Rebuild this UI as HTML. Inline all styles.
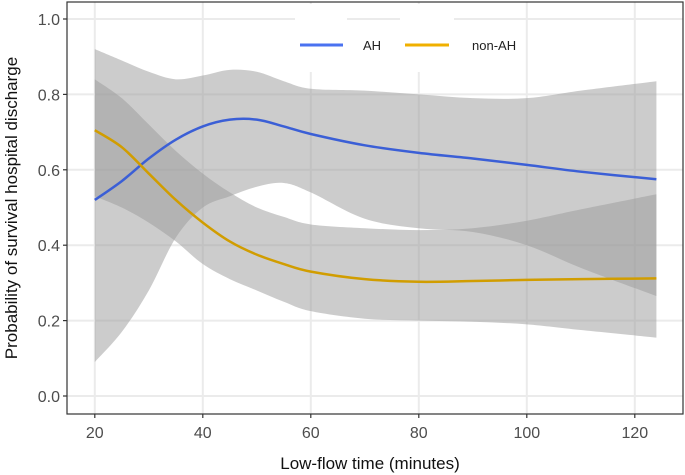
<!DOCTYPE html>
<html><head><meta charset="utf-8"><style>
body{margin:0;background:#fff;}
svg{display:block;font-family:"Liberation Sans",Arial,sans-serif;}
</style></head><body>
<svg id="chart" width="685" height="475"></svg>
<script>
const xs=[20,25,30,35,40,45,50,55,60,70,80,90,100,110,124];
const ahMean=[0.52,0.57,0.63,0.68,0.715,0.733,0.733,0.715,0.695,0.665,0.645,0.63,0.613,0.595,0.575];
const ahUpper=[0.92,0.89,0.86,0.84,0.85,0.865,0.86,0.835,0.815,0.81,0.80,0.79,0.79,0.81,0.835];
const ahLower=[0.09,0.17,0.28,0.42,0.50,0.53,0.555,0.565,0.54,0.47,0.445,0.435,0.40,0.34,0.265];
const nonMean=[0.705,0.66,0.59,0.52,0.46,0.41,0.375,0.35,0.33,0.31,0.303,0.305,0.308,0.31,0.312];
const nonUpper=[0.84,0.79,0.72,0.65,0.59,0.54,0.50,0.475,0.455,0.445,0.44,0.445,0.465,0.495,0.535];
const nonLower=[0.53,0.50,0.46,0.41,0.35,0.31,0.28,0.25,0.225,0.205,0.20,0.197,0.19,0.175,0.155];
const xTicks=[20,40,60,80,100,120];
const yTicks=[0,0.2,0.4,0.6,0.8,1.0];
const yTickLabels=["0.0","0.2","0.4","0.6","0.8","1.0"];

const L=67,R=683,T=2,B=414;
const X=v=>94.8+(v-20)*5.4;
const Y=v=>396-v*377;
const NS="http://www.w3.org/2000/svg";
const svg=document.getElementById('chart');
function mk(tag,attrs,parent){const e=document.createElementNS(NS,tag);for(const k in attrs)e.setAttribute(k,attrs[k]);(parent||svg).appendChild(e);return e;}
function smooth(pts){let d=`M${pts[0][0]},${pts[0][1]}`;for(let i=0;i<pts.length-1;i++){const p0=pts[i-1]||pts[i],p1=pts[i],p2=pts[i+1],p3=pts[i+2]||p2;
const c1=[p1[0]+(p2[0]-p0[0])/6,p1[1]+(p2[1]-p0[1])/6],c2=[p2[0]-(p3[0]-p1[0])/6,p2[1]-(p3[1]-p1[1])/6];
d+=` C${c1[0]},${c1[1]} ${c2[0]},${c2[1]} ${p2[0]},${p2[1]}`;}return d;}
function pts(arr){return xs.map((x,i)=>[X(x),Y(arr[i])]);}
function ribbon(up,lo){const u=pts(up),l=pts(lo).reverse();return smooth(u)+' L'+smooth(l).slice(1)+' Z';}

const grid=mk('g',{});
yTicks.forEach(v=>{const g=mk('line',{x1:L,x2:R,y1:Y(v),y2:Y(v),stroke:'#ebebeb','stroke-width':2},grid);});
xTicks.forEach(v=>{const g=mk('line',{x1:X(v),x2:X(v),y1:T,y2:B,stroke:'#ebebeb','stroke-width':2},grid);});

const lg=mk('g',{});
mk('rect',{x:295,y:4,width:52,height:68,fill:'#fff'},lg);
mk('rect',{x:400,y:4,width:54,height:68,fill:'#fff'},lg);

const r1=mk('path',{d:ribbon(ahUpper,ahLower),fill:'#999','fill-opacity':0.5});

const r2=mk('path',{d:ribbon(nonUpper,nonLower),fill:'#999','fill-opacity':0.5});


const l1=mk('path',{d:smooth(pts(ahMean)),fill:'none',stroke:'#3b5fd6','stroke-width':2.5});

const l2=mk('path',{d:smooth(pts(nonMean)),fill:'none',stroke:'#d19d00','stroke-width':2.5});


const k1=mk('line',{x1:300,x2:343,y1:45,y2:45,stroke:'#4a72f0','stroke-width':3},lg);
const t1=mk('text',{x:363,y:50,'font-size':13,fill:'#222'},lg);t1.textContent='AH';
const k2=mk('line',{x1:405,x2:449,y1:45,y2:45,stroke:'#f0b000','stroke-width':3},lg);
const t2=mk('text',{x:472,y:50,'font-size':13,fill:'#222'},lg);t2.textContent='non-AH';

const pb=mk('rect',{x:L,y:T,width:R-L,height:B-T,fill:'none',stroke:'#333','stroke-width':1.2});


yTicks.forEach((v,i)=>{mk('line',{x1:L-4,x2:L,y1:Y(v),y2:Y(v),stroke:'#333','stroke-width':1.2});
const t=mk('text',{x:L-7,y:Y(v)+6,'text-anchor':'end','font-size':16,fill:'#4d4d4d'});t.textContent=yTickLabels[i];
});
xTicks.forEach(v=>{mk('line',{x1:X(v),x2:X(v),y1:B,y2:B+4,stroke:'#333','stroke-width':1.2});
const t=mk('text',{x:X(v),y:B+24,'text-anchor':'middle','font-size':16,fill:'#4d4d4d'});t.textContent=v;
});

const xt=mk('text',{x:370,y:469,'text-anchor':'middle','font-size':17,fill:'#111'});xt.textContent='Low-flow time (minutes)';

const yt=mk('text',{x:0,y:0,'text-anchor':'middle','font-size':17,fill:'#111',transform:'translate(17,208) rotate(-90)'});yt.textContent='Probability of survival hospital discharge';

</script>
</body></html>
